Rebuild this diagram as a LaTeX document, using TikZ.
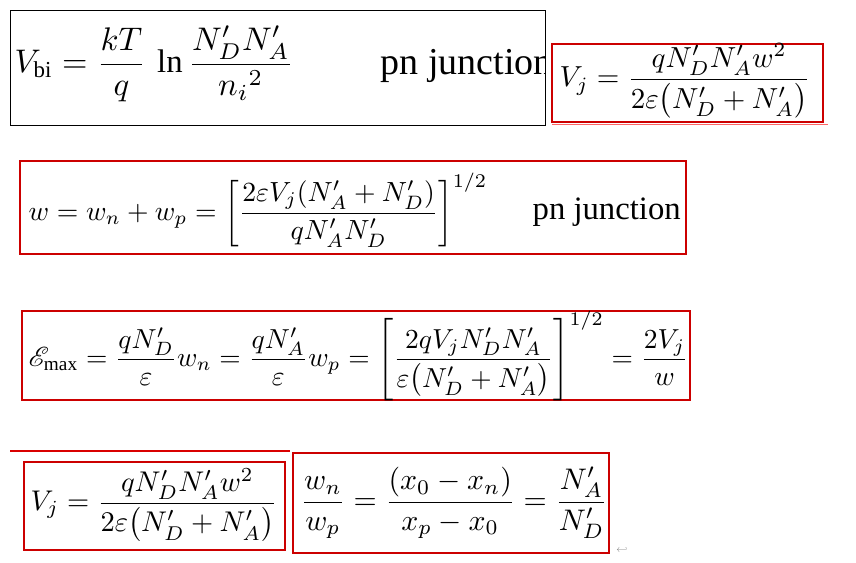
\documentclass[tikz,border=0pt]{standalone}
\usepackage{amsmath}
\usepackage{mathrsfs}
\usepackage{fontspec}
\setmainfont{Liberation Serif}
\begin{document}
\begin{tikzpicture}[x=1pt,y=-1pt,
  redbox/.style={draw=red!80!black,line width=1.2pt},
  blackbox/.style={draw=black,line width=1pt},
  eq/.style={inner sep=0pt,anchor=west}]
\useasboundingbox (0,0) rectangle (856,562);
\draw[blackbox] (10,10) rectangle (545,125);
\begin{scope}
\clip (10,10) rectangle (545,125);
\node[eq,scale=3.27] (vbi) at (14,64) {$V_{\mathrm{bi}}=\dfrac{kT}{q}\,\ln\dfrac{N'_DN'_A}{{n_i}^2}$};
\node[eq,scale=3.8] (pn1) at (380,66) {pn junction};
\end{scope}
\draw[redbox] (552,44) rectangle (823,122);
\draw[red!60,line width=1pt] (552,124) -- (828,124);
\node[eq,scale=2.9] (vj1) at (559,81) {$V_j=\dfrac{qN'_DN'_Aw^2}{2\varepsilon\bigl(N'_D+N'_A\bigr)}$};
\draw[redbox] (20,161) rectangle (686,254);
\node[eq,scale=2.77] (w) at (28,210) {$w=w_n+w_p=\left[\dfrac{2\varepsilon V_j(N'_A+N'_D)}{qN'_AN'_D}\right]^{1/2}$};
\node[eq,scale=3.27] (pn2) at (532,212) {pn junction};
\draw[redbox] (22,311) rectangle (690,400);
\node[eq,scale=2.75] (emax) at (28,356) {$\mathscr{E}_{\max}=\dfrac{qN'_D}{\varepsilon}w_n=\dfrac{qN'_A}{\varepsilon}w_p=\left[\dfrac{2qV_jN'_DN'_A}{\varepsilon\bigl(N'_D+N'_A\bigr)}\right]^{1/2}=\dfrac{2V_j}{w}$};
\draw[red!85!black,line width=1.5pt] (10,451) -- (290,451);
\draw[redbox] (24,462) rectangle (285,550);
\node[eq,scale=2.85] (vj2) at (30,505) {$V_j=\dfrac{qN'_DN'_Aw^2}{2\varepsilon\bigl(N'_D+N'_A\bigr)}$};
\draw[redbox] (293,453) rectangle (609,553);
\node[eq,scale=2.98] (ratio) at (300,503) {$\dfrac{w_n}{w_p}=\dfrac{(x_0-x_n)}{x_p-x_0}=\dfrac{N'_A}{N'_D}$};
\node[inner sep=0pt,scale=1,gray] (ret) at (622,550) {$\hookleftarrow$};
\end{tikzpicture}
\end{document}
